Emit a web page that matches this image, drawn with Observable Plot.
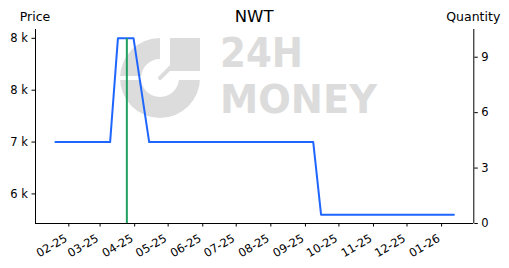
<!DOCTYPE html>
<html><head><meta charset="utf-8">
<script src="https://cdn.jsdelivr.net/npm/d3@7"></script>
<script src="https://cdn.jsdelivr.net/npm/@observablehq/plot@0.6"></script>
<style>body{margin:0;background:#fff} svg{display:block}</style>
</head><body><div id="chart"></div>
<script>
const title = "NWT";
const leftLabel = "Price";
const rightLabel = "Quantity";
const priceDates = ["2025-01-20","2025-03-10","2025-03-17","2025-03-31","2025-04-14","2025-09-08","2025-09-15","2026-01-12"];
const prices = [6800, 6800, 8400, 8400, 6800, 6800, 5680, 5680];
const qtyDates = ["2025-03-25"];
const quantities = [10];
const priceTicks = [6000, 6800, 7600, 8400];
const qtyTicks = [0, 3, 6, 9];
const monthTicks = ["2025-02-01","2025-03-01","2025-04-01","2025-05-01","2025-06-01","2025-07-01","2025-08-01","2025-09-01","2025-10-01","2025-11-01","2025-12-01","2026-01-01"];

const parse = d3.utcParse("%Y-%m-%d");
const priceData = priceDates.map((d, i) => ({date: parse(d), price: prices[i]}));
const qtyData = qtyDates.map((d, i) => ({date: parse(d), qty: quantities[i]}));

const [pMin, pMax] = d3.extent(prices);
const pPad = 0.05 * (pMax - pMin);
const yDomain = [pMin - pPad, pMax + pPad];
const qTop = d3.max(quantities) * 1.05;
const toY = q => yDomain[0] + q / qTop * (yDomain[1] - yDomain[0]);
const fromY = y => (y - yDomain[0]) / (yDomain[1] - yDomain[0]) * qTop;

const allDates = priceData.map(d => d.date).concat(qtyData.map(d => d.date));
const [dMin, dMax] = d3.extent(allDates);
const dPad = 0.05 * (dMax - dMin);
const xDomain = [new Date(+dMin - dPad), new Date(+dMax + dPad)];
const xTicks = monthTicks.map(parse);

const W = 509, H = 268;
const chart = Plot.plot({
  width: W, height: H,
  marginLeft: 35, marginRight: 35.7, marginTop: 29, marginBottom: 45,
  style: {fontFamily: "DejaVu Sans, sans-serif", fontSize: "11.5px", color: "#000", background: "#fff"},
  x: {type: "utc", domain: xDomain},
  y: {domain: yDomain},
  marks: [
    Plot.line(priceData, {x: "date", y: "price", stroke: "#1f66ff", strokeWidth: 2}),
    Plot.ruleX(qtyData, {x: "date", y1: () => yDomain[0], y2: d => toY(d.qty), stroke: "#1fa060", strokeWidth: 2}),
    Plot.ruleX([xDomain[0], xDomain[1]], {stroke: "#000", strokeWidth: 1}),
    Plot.ruleY([yDomain[0]], {stroke: "#000", strokeWidth: 1}),
    Plot.axisY(priceTicks, {anchor: "left", tickSize: 3.5, tickPadding: 4, label: null, tickFormat: d => `${Math.round(d / 1000)} k`}),
    Plot.axisY(qtyTicks.map(toY), {anchor: "right", tickSize: 3.5, tickPadding: 4, label: null, tickFormat: d => `${Math.round(fromY(d))}`}),
    Plot.axisX(xTicks, {anchor: "bottom", tickSize: 3.5, label: null, tickFormat: () => ""}),
    Plot.axisX(xTicks, {anchor: "bottom", tickSize: 0, tickPadding: 7, label: null, tickRotate: -30, dx: -2.5, dy: 7, tickFormat: d3.utcFormat("%m-%y")})
  ]
});
document.getElementById("chart").appendChild(chart);

const svg = d3.select(chart);
// watermark (decorative)
const wm = svg.insert("g", ":first-child").attr("fill", "#dcdcdc").attr("text-anchor", "start");
const cx = 160, cy = 78, ro = 40, ri = 19;
wm.append("path")
  .attr("d", d3.arc()({innerRadius: ri, outerRadius: ro, startAngle: Math.PI * 0.5, endAngle: Math.PI * 2}))
  .attr("transform", `translate(${cx},${cy})`);
wm.append("rect").attr("x", 170).attr("y", 38).attr("width", 30).attr("height", 33);
wm.append("rect").attr("x", 118).attr("y", 76).attr("width", 24).attr("height", 4).attr("fill", "#fff");
wm.append("rect").attr("x", 178).attr("y", 76).attr("width", 24).attr("height", 4).attr("fill", "#fff");
wm.append("line").attr("x1", cx).attr("y1", cy).attr("x2", 183).attr("y2", 55)
  .attr("stroke", "#dcdcdc").attr("stroke-width", 4).attr("stroke-linecap", "round");
wm.append("text").attr("x", 220).attr("y", 67).attr("font-family", "DejaVu Sans").attr("font-weight", "bold")
  .attr("font-size", 40).attr("textLength", 83).attr("lengthAdjust", "spacingAndGlyphs").text("24H");
wm.append("text").attr("x", 220).attr("y", 113).attr("font-family", "DejaVu Sans").attr("font-weight", "bold")
  .attr("font-size", 39).attr("textLength", 157).attr("lengthAdjust", "spacingAndGlyphs").text("MONEY");

const t = svg.append("g").attr("font-family", "DejaVu Sans, sans-serif").attr("fill", "#000");
t.append("text").attr("x", (35 + W - 35.7) / 2).attr("y", 22).attr("text-anchor", "middle").attr("font-size", 16.5).text(title);
t.append("text").attr("x", 35).attr("y", 21).attr("text-anchor", "middle").attr("font-size", 12.5).text(leftLabel);
t.append("text").attr("x", W - 35.7).attr("y", 21).attr("text-anchor", "middle").attr("font-size", 12.5).text(rightLabel);
</script>
</body></html>
